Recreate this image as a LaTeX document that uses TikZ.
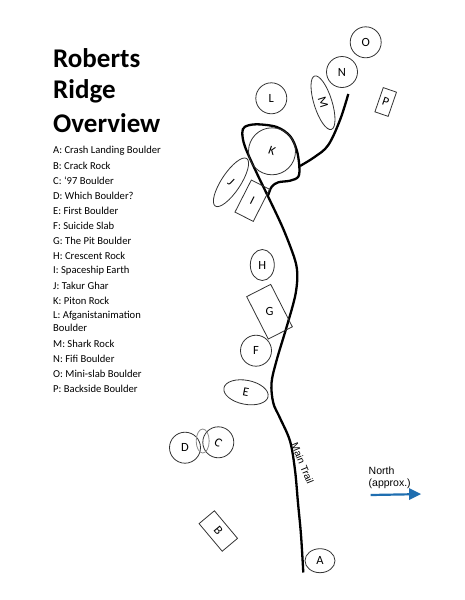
\documentclass[tikz,border=0pt]{standalone}
\usepackage{graphicx}
\usepackage{fontspec}
\setmainfont{Carlito}
\newfontfamily\arialfont{Liberation Sans}
\usetikzlibrary{shapes.geometric}
\definecolor{arrowblue}{RGB}{31,110,176}
\tikzset{
    rock/.style={circle, draw=black!80, line width=0.8pt, inner sep=0pt, minimum size=31pt, font=\fontsize{12.5}{12.5}\selectfont},
    longrock/.style={ellipse, draw=black!80, line width=0.8pt, inner sep=0pt, font=\fontsize{12.5}{12.5}\selectfont},
    slab/.style={rectangle, draw=black!80, line width=0.8pt, inner sep=0pt, font=\fontsize{12.5}{12.5}\selectfont},
    trail/.style={line width=2.3pt, line join=round},
    legend/.style={anchor=west, inner sep=0pt, font=\fontsize{10.6}{10.6}\selectfont},
    heading/.style={anchor=west, inner sep=0pt, font=\fontsize{27}{27}\selectfont\bfseries},
    arial/.style={anchor=west, inner sep=0pt, font=\fontsize{10.5}{10.5}\selectfont\arialfont}
}

\begin{document}
\begin{tikzpicture}[x=1pt, y=-1pt]
    \useasboundingbox (0,0) rectangle (464,600);
    \node[heading] (title0) at (53,58) {Roberts};
    \node[heading] (title1) at (53,91) {Ridge};
    \node[heading] (title2) at (53,123) {Overview};
    \foreach \tag/\y/\txt in {A/151/A: Crash Landing Boulder, B/166/B: Crack Rock, C/181/C: ‘97 Boulder,
            D/196/D: Which Boulder?, E/211/E: First Boulder, F/226/F: Suicide Slab, G/241/G: The Pit Boulder,
            H/256/H: Crescent Rock, I/271/I: Spaceship Earth, J/286/J: Takur Ghar, K/301/K: Piton Rock,
            L/316/L: Afganistanimation, L2/328/Boulder, M/344/M: Shark Rock, N/359/N: Fifi Boulder,
            O/374/O: Mini-slab Boulder, P/389/P: Backside Boulder} {
        \node[legend] (leg\tag) at (53,\y) {\txt};
    }
    % the trail
    \draw[trail] plot[smooth, tension=0.55] coordinates {
        (303.3,572.5) (301,535) (298,503) (295,470) (290,441) (280,418) (273.3,403) (271.5,383)
        (276.7,360) (286.7,326.7) (295,296.7) (297.3,276.7) (295,260) (283.3,229) (268.3,197)
        (256.7,173) (245,146.7) (242.3,133) (245,126.7) (256.7,124.3) (276.7,127) (290,136)
        (296.7,150) (299.3,166) (298.3,176.7) (290,180.7) (278.3,182.3) (271.7,186.7) (268.3,195)};
    \coordinate (spur0) at (300,166);
    \draw[trail] plot[smooth, tension=0.6] coordinates {
        (spur0) (315,156.7) (328.3,145) (340,120) (348.3,94)};
    % rocks
    \node[longrock, minimum width=30pt, minimum height=24pt] (A) at (320,560.7) {A};
    \node[slab, minimum width=36pt, minimum height=20pt, rotate=-50] (B) at (218.3,531) {B};
    \node[rock] (C) at (218.3,442.3) {\rotatebox{-30}{C}};
    \node[rock] (D) at (185,447.7) {D};
    \node[longrock, draw=black!45, minimum width=13pt, minimum height=24pt] (CD) at (202.7,441) {};
    \node[longrock, minimum width=45pt, minimum height=24pt, rotate=-11] (E) at (246,392.3) {E};
    \node[rock] (F) at (256,350.7) {F};
    \node[slab, minimum width=27pt, minimum height=47.6pt, rotate=27] (G) at (269.5,311.7) {\rotatebox{-27}{G}};
    \node[longrock, minimum width=24pt, minimum height=31pt] (H) at (262.3,265) {H};
    \node[slab, minimum width=20.5pt, minimum height=36pt, rotate=-27] (I) at (252.3,200.7) {I};
    \node[longrock, minimum width=57pt, minimum height=19pt, rotate=56.5] (J) at (231,182.3) {\rotatebox{-100}{J}};
    \node[rock, minimum size=47pt] (K) at (272,151.3) {\rotatebox{-20}{K}};
    \node[rock] (L) at (271.3,98.3) {L};
    \node[longrock, minimum width=56pt, minimum height=18pt, rotate=-72.6] (M) at (323,102.7) {M};
    \node[rock] (N) at (342,72) {N};
    \node[rock] (O) at (365.7,42.3) {O};
    \node[slab, minimum width=14pt, minimum height=25.6pt, rotate=-19] (P) at (385.7,102) {P};
    % labels on the right
    \node[arial, anchor=center, rotate=-68, font=\fontsize{10}{10}\selectfont\arialfont] (mainlabel) at (302.5,463.3) {Main Trail};
    \node[arial] (north0) at (368.5,471) {North};
    \node[arial] (north1) at (368.5,484) {(approx.)};
    \coordinate (arrow0) at (370.7,495);
    \coordinate (arrow1) at (409.5,494.3);
    \draw[draw=arrowblue, line width=2.2pt] (arrow0) -- (arrow1);
    \fill[arrowblue] (409,488) -- (421,494) -- (409,500) -- cycle;
\end{tikzpicture}
\end{document}
